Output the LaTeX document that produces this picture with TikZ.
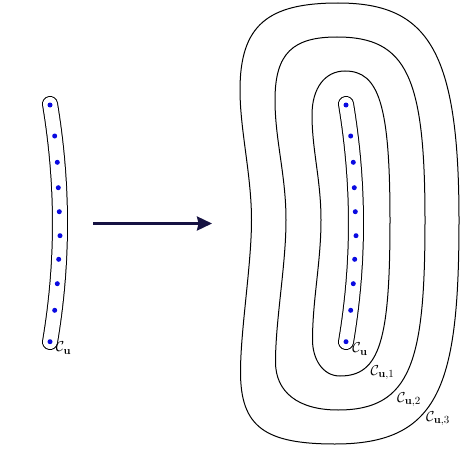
\documentclass[tikz,border=0pt]{standalone}
\usetikzlibrary{arrows.meta}
\definecolor{arrowcol}{RGB}{22,18,66}
\definecolor{dotcol}{RGB}{10,10,225}
\tikzset{
  curve/.style={draw=black, line width=1pt},
  udot/.style={fill=dotcol, draw=none},
  lab/.style={inner sep=0pt, font=\fontsize{15}{17}\selectfont},
  bigarrow/.style={draw=arrowcol, line width=2.6pt, -{Stealth[length=15pt,width=14pt,inset=1.5pt]}},
  culoop/.pic={
    \draw[black, line width=16pt, line cap=round]
      (346,104) .. controls (359.3,184) and (359.3,263) .. (346,342);
    \draw[white, line width=14pt, line cap=round]
      (346,104) .. controls (359.3,184) and (359.3,263) .. (346,342);
    \foreach \px/\py in {346/105, 350.7/136, 353.3/162.3, 354.3/187.7, 355.3/211.7,
                         356/235.7, 354.7/259.3, 353.3/283.7, 350.7/310.3, 346/341.7}
      \fill[udot] (\px,\py) circle (2.5);
  }
}
\begin{document}
\begin{tikzpicture}[x=1pt, y=-1pt]
\useasboundingbox (0,0) rectangle (474,452);

% left thin loop
\pic at (-296,0) {culoop};
\node[lab] (lcu) at (63.5,348) {$\mathcal{C}_{\mathbf{u}}$};

% arrow
\coordinate (a1) at (93,223.5);
\coordinate (a2) at (212,223.5);
\draw[bigarrow] (a1) -- (a2);

% right nested curves
\draw[curve] (345,71) .. controls (379,71) and (390,105) .. (390,220)
  .. controls (390,340) and (380,376) .. (340,376)
  .. controls (322,376) and (312.5,358) .. (312.5,340)
  .. controls (312.5,300) and (321,262) .. (321,220)
  .. controls (321,180) and (312,150) .. (312,115)
  .. controls (312,88) and (325,71) .. cycle;

\draw[curve] (337,37) .. controls (407,37) and (425,77) .. (425,220)
  .. controls (425,360) and (412,410) .. (338,410)
  .. controls (298,410) and (275.5,392) .. (275.5,362)
  .. controls (275.5,320) and (286,265) .. (286,220)
  .. controls (286,175) and (275,140) .. (275,100)
  .. controls (275,53) and (293,37) .. cycle;

\draw[curve] (338,3) .. controls (428,3) and (459,50) .. (459,220)
  .. controls (459,385) and (440,444) .. (335,444)
  .. controls (265,444) and (240.5,427) .. (240.5,372)
  .. controls (240.5,330) and (251.5,265) .. (251.5,220)
  .. controls (251.5,175) and (240,130) .. (240,90)
  .. controls (240,25) and (268,3) .. cycle;

\pic at (0,0) {culoop};

\node[lab] (rcu) at (360,349) {$\mathcal{C}_{\mathbf{u}}$};
\node[lab] (cu1) at (382.5,373) {$\mathcal{C}_{\mathbf{u},1}$};
\node[lab] (cu2) at (409,400) {$\mathcal{C}_{\mathbf{u},2}$};
\node[lab] (cu3) at (438,418.5) {$\mathcal{C}_{\mathbf{u},3}$};
\end{tikzpicture}
\end{document}
